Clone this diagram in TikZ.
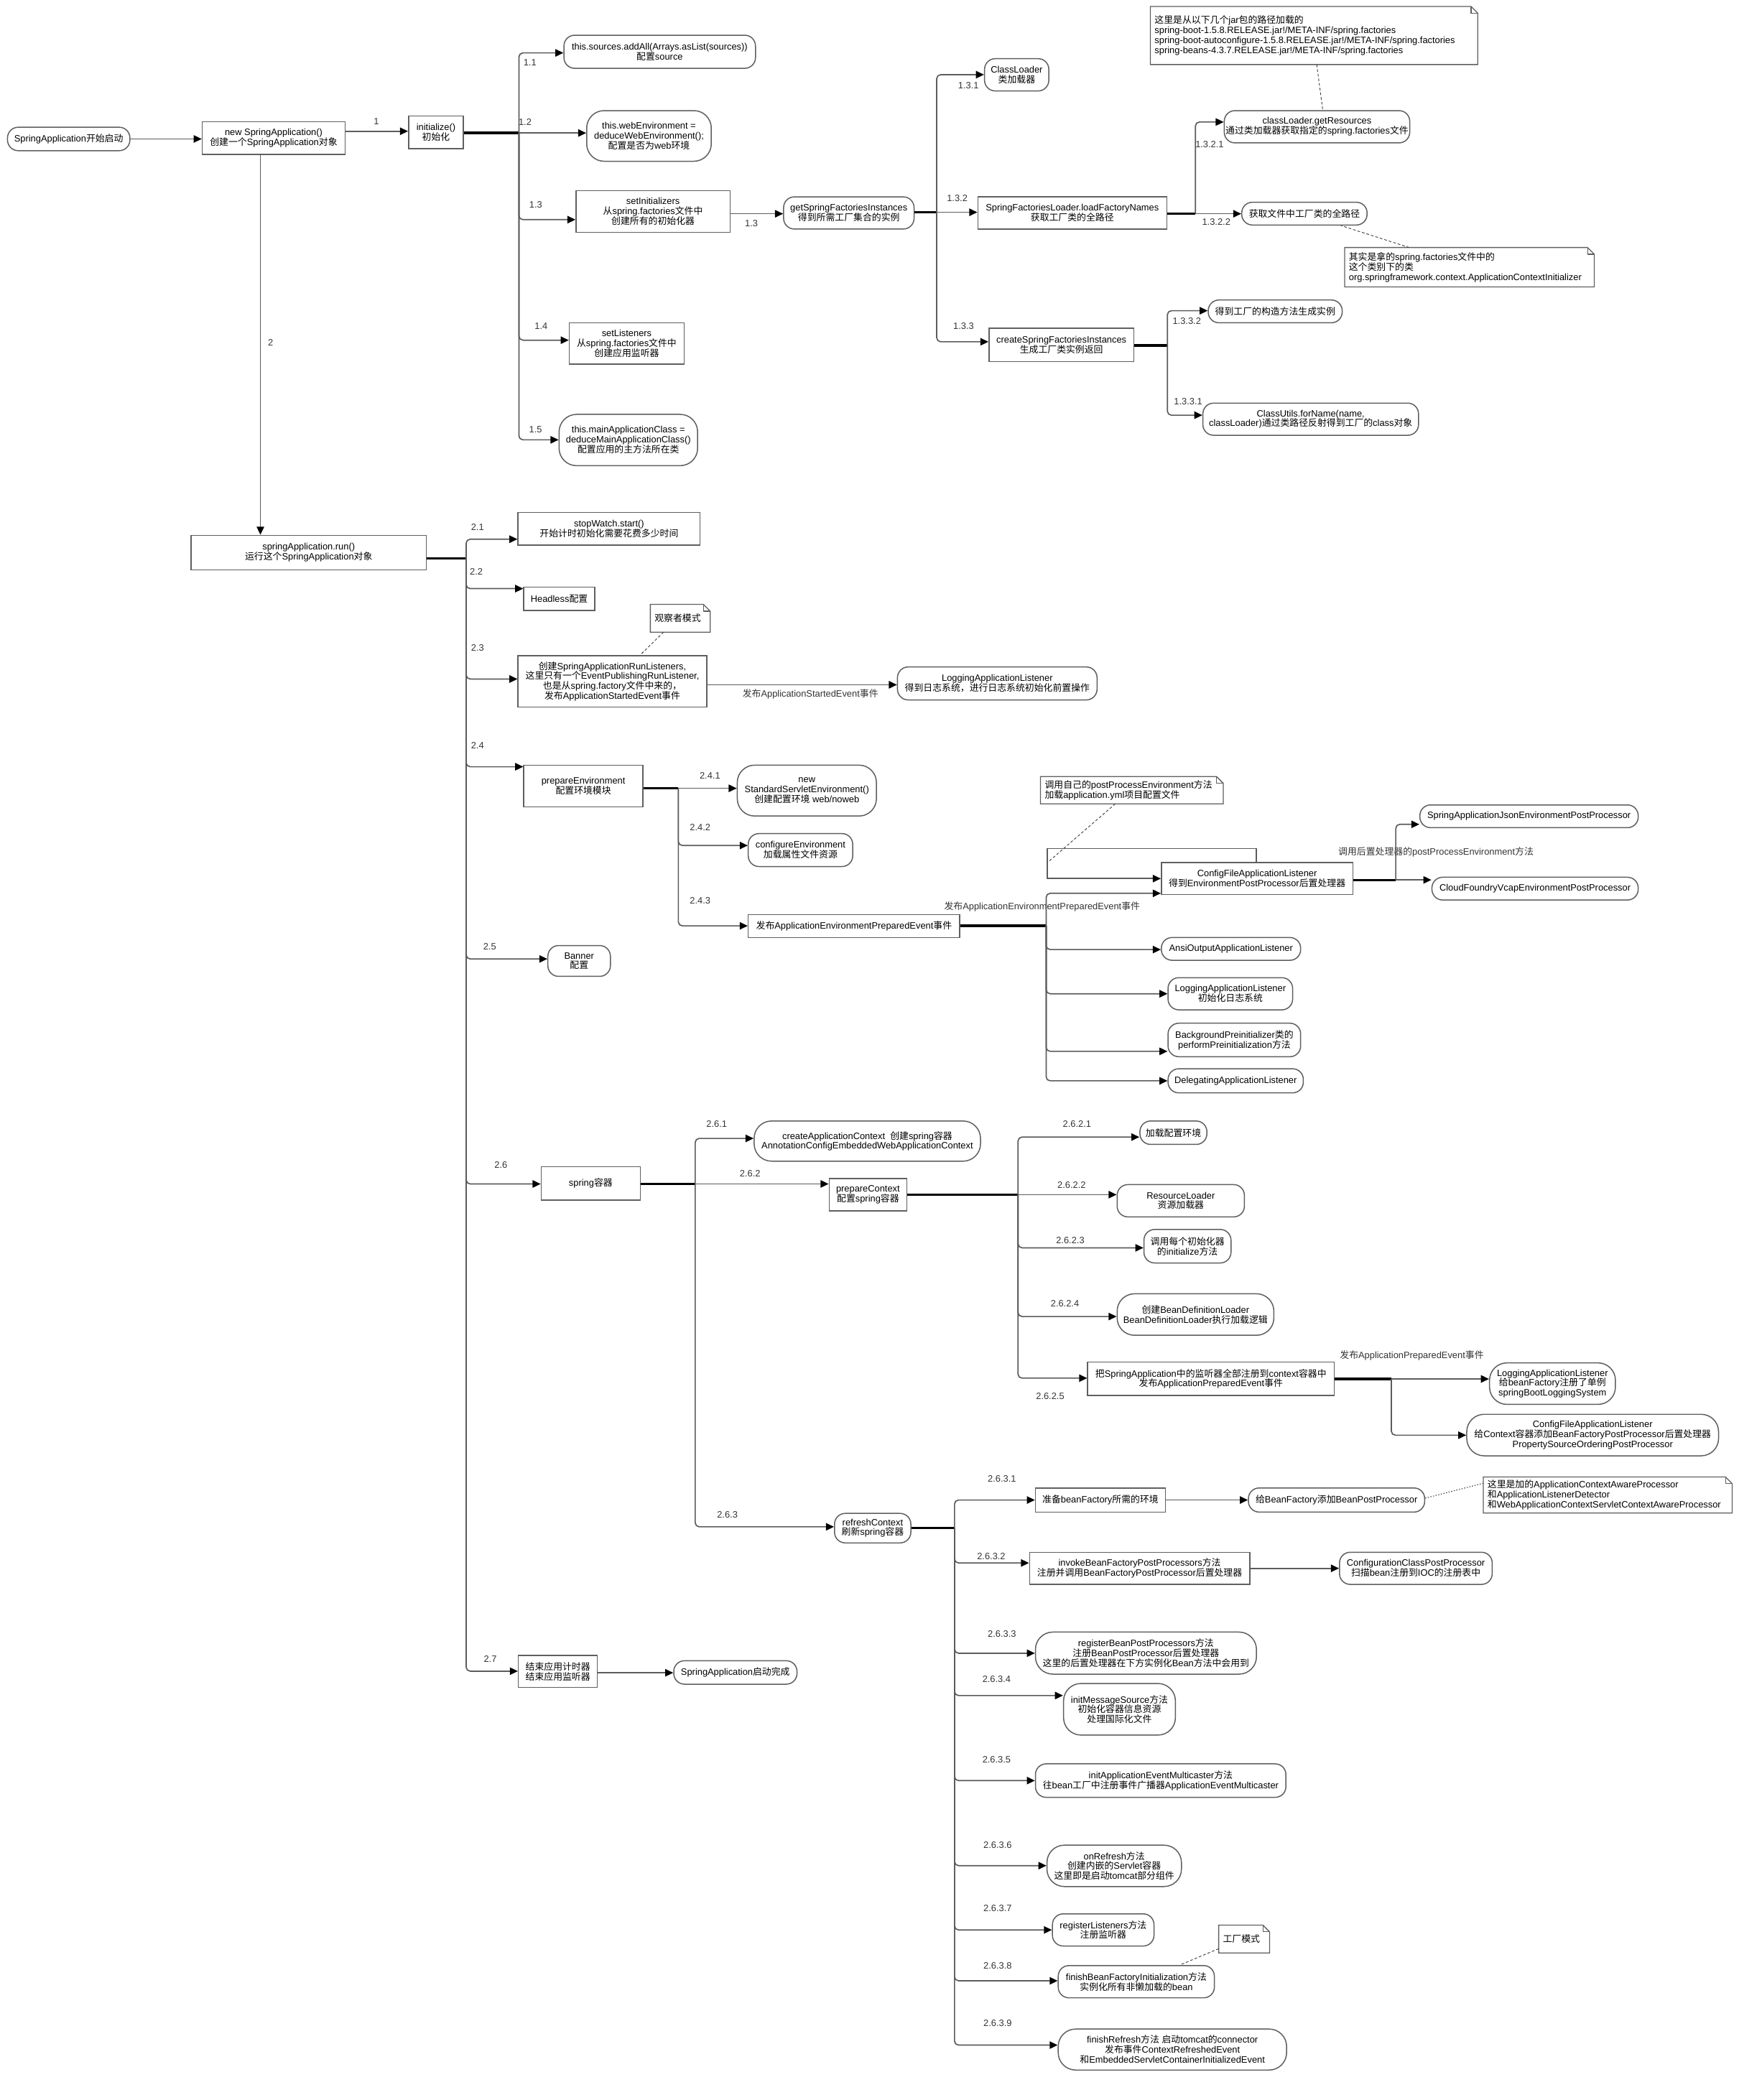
\documentclass[tikz,border=0pt]{standalone}
\usepackage{fontspec}
\setmainfont{Liberation Sans}
\newfontfamily\latfont{Liberation Sans}
\newfontfamily\cjkfont{Noto Sans CJK SC}
\usetikzlibrary{arrows.meta}
\definecolor{bord}{HTML}{5F5F5F}
\definecolor{lin}{HTML}{5C5C5C}
\newXeTeXintercharclass\cjkcls
\newcount\cjkcnt
\cjkcnt="3000 \loop \XeTeXcharclass\cjkcnt=\cjkcls \ifnum\cjkcnt<"303F \advance\cjkcnt by 1 \repeat
\cjkcnt="4E00 \loop \XeTeXcharclass\cjkcnt=\cjkcls \ifnum\cjkcnt<"9FFF \advance\cjkcnt by 1 \repeat
\cjkcnt="FF00 \loop \XeTeXcharclass\cjkcnt=\cjkcls \ifnum\cjkcnt<"FFEF \advance\cjkcnt by 1 \repeat
\XeTeXinterchartoks 0 \cjkcls = {\cjkfont}
\XeTeXinterchartoks 4095 \cjkcls = {\cjkfont}
\XeTeXinterchartoks \cjkcls 0 = {\latfont}
\XeTeXinterchartoks \cjkcls 4095 = {\latfont}
\XeTeXinterchartokenstate=1
\newcommand\fsz{\fontsize{6.9}{7.4}\selectfont\exhyphenpenalty=10000 \hyphenpenalty=10000 }
\newcommand\bx[7]{%
 \pgfmathsetmacro\bxcx{(#2+#4)/2}\pgfmathsetmacro\bxcy{(#3+#5)/2}%
 \pgfmathsetmacro\bxw{#4-#2}\pgfmathsetmacro\bxh{#5-#3}%
 \node[#6,minimum width=\bxw pt,minimum height=\bxh pt] (#1) at (\bxcx,\bxcy) {#7};}
\newcommand\nt[6]{%
 \pgfmathsetmacro\bxcx{(#2+#4)/2}\pgfmathsetmacro\bxcy{(#3+#5)/2}%
 \pgfmathsetmacro\bxw{#4-#2}\pgfmathsetmacro\bxh{#5-#3}\pgfmathsetmacro\bxtw{#4-#2-6}%
 \node[notebox,minimum width=\bxw pt,minimum height=\bxh pt,text width=\bxtw pt] (#1) at (\bxcx,\bxcy) {#6};
 \draw[noteline] (#1.north west) -- ([xshift=-5pt]#1.north east) -- ([yshift=-5pt]#1.north east) -- (#1.south east) -- (#1.south west) -- cycle;
 \draw[noteline] ([xshift=-5pt]#1.north east) -- ([xshift=-5pt,yshift=-5pt]#1.north east) -- ([yshift=-5pt]#1.north east);}
\tikzset{
 nbase/.style={font=\fsz, align=center, inner sep=1pt, draw=bord, line width=0.8pt, fill=white, text=black},
 boxn/.style={nbase},
 pill/.style={nbase, rounded corners=8pt},
 pillb/.style={nbase, rounded corners=13pt},
 notebox/.style={font=\fsz, align=left, inner sep=2pt, fill=white},
 conn/.style={draw=lin, line width=0.9pt, rounded corners=3pt, -{Triangle[length=6pt,width=5.5pt,color=black]}},
 thk/.style={draw=black, line width=1.8pt},
 lbl/.style={font=\fsz, text=black!80, inner sep=0pt},
 noteline/.style={draw=bord, line width=0.7pt},
 dashln/.style={draw=black!75, line width=0.5pt, dash pattern=on 2pt off 1.5pt},
 dotln/.style={draw=black!75, line width=0.6pt, dash pattern=on 0.8pt off 1.2pt},
}
\begin{document}
\begin{tikzpicture}[x=1pt,y=-1pt]
\useasboundingbox (0,0) rectangle (1315,1568);
\fill[white] (0,0) rectangle (1315,1568);
% ---------- part 1
\bx{start}{5.6}{95}{97}{112.5}{pill}{SpringApplication开始启动}
\bx{newsa}{151}{91}{257.6}{115.3}{boxn}{new SpringApplication()\\创建一个SpringApplication对象}
\bx{init}{305}{86.6}{346}{111}{boxn}{initialize()\\初始化}
\bx{n11}{421}{26.3}{564}{51}{pill}{this.sources.addAll(Arrays.asList(sources))\\配置source}
\bx{n12}{438}{82.6}{531}{120.4}{pillb}{this.webEnvironment =\\deduceWebEnvironment();\\配置是否为web环境}
\bx{n13}{430}{142.4}{545}{173.5}{boxn}{setInitializers\\从spring.factories文件中\\创建所有的初始化器}
\bx{n14}{425}{241}{510.7}{272}{boxn}{setListeners\\从spring.factories文件中\\创建应用监听器}
\bx{n15}{417.4}{309.4}{520.8}{347.7}{pillb}{this.mainApplicationClass =\\deduceMainApplicationClass()\\配置应用的主方法所在类}
\bx{gsfi}{585}{147}{682.4}{171}{pill}{getSpringFactoriesInstances\\得到所需工厂集合的实例}
\bx{cl}{735}{43.8}{783}{67.9}{pill}{ClassLoader\\类加载器}
\bx{sfl}{730}{147}{871}{171}{boxn}{SpringFactoriesLoader.loadFactoryNames\\获取工厂类的全路径}
\bx{csfi}{738.3}{245}{846.5}{270}{boxn}{createSpringFactoriesInstances\\生成工厂类实例返回}
\bx{gres}{914.6}{82.6}{1051.8}{106.7}{pill}{classLoader.getResources\\通过类加载器获取指定的spring.factories文件}
\bx{gfile}{927}{151}{1020.6}{168}{pill}{获取文件中工厂类的全路径}
\bx{ctor}{902}{224}{1002}{241}{pill}{得到工厂的构造方法生成实例}
\bx{cu}{898}{301}{1059}{325}{pill}{ClassUtils.forName(name,\\classLoader)通过类路径反射得到工厂的class对象}
\nt{note1}{859}{5}{1103}{48}{这里是从以下几个jar包的路径加载的\\spring-boot-1.5.8.RELEASE.jar!/META-INF/spring.factories\\spring-boot-autoconfigure-1.5.8.RELEASE.jar!/META-INF/spring.factories\\spring-beans-4.3.7.RELEASE.jar!/META-INF/spring.factories}
\nt{note2}{1004}{185}{1190}{214}{其实是拿的spring.factories文件中的\\这个类别下的类\\org.springframework.context.ApplicationContextInitializer}
% ---------- part 2
\bx{run}{142.6}{399.7}{318.3}{425.6}{boxn}{springApplication.run()\\运行这个SpringApplication对象}
\bx{sw}{386.7}{382.6}{522.7}{407}{boxn}{stopWatch.start()\\开始计时初始化需要花费多少时间}
\bx{hl}{391}{438.5}{444}{455.7}{boxn}{Headless配置}
\bx{rl}{386.7}{489.7}{527.6}{527.9}{boxn}{创建SpringApplicationRunListeners,\\这里只有一个EventPublishingRunListener,\\也是从spring.factory文件中来的，\\发布ApplicationStartedEvent事件}
\nt{note3}{485.7}{451.5}{530}{471.8}{观察者模式}
\bx{lal1}{670}{498}{819}{522.6}{pill}{LoggingApplicationListener\\得到日志系统，进行日志系统初始化前置操作}
\bx{pe}{391}{571.3}{480}{602.4}{boxn}{prepareEnvironment\\配置环境模块}
\bx{sse}{550.4}{571.3}{654.3}{609.3}{pillb}{new\\StandardServletEnvironment()\\创建配置环境 web/noweb}
\bx{ce}{558.6}{622.4}{636.6}{647}{pill}{configureEnvironment\\加载属性文件资源}
\bx{pub}{558.6}{683}{716.5}{700}{boxn}{发布ApplicationEnvironmentPreparedEvent事件}
\bx{cfal}{867}{644}{1010}{668}{boxn}{ConfigFileApplicationListener\\得到EnvironmentPostProcessor后置处理器}
\nt{note4}{777}{580}{913}{600}{调用自己的postProcessEnvironment方法\\加载application.yml项目配置文件}
\bx{sajepp}{1060}{601}{1223}{618}{pill}{SpringApplicationJsonEnvironmentPostProcessor}
\bx{cfv}{1069}{655}{1223}{672}{pill}{CloudFoundryVcapEnvironmentPostProcessor}
\bx{aoal}{867}{700}{971}{717}{pill}{AnsiOutputApplicationListener}
\bx{lal2}{872}{730}{965}{754}{pill}{LoggingApplicationListener\\初始化日志系统}
\bx{bpi}{872}{764}{971}{789}{pill}{BackgroundPreinitializer类的\\performPreinitialization方法}
\bx{dal}{872}{798}{973}{816}{pill}{DelegatingApplicationListener}
\bx{banner}{409}{706}{455.7}{729}{pill}{Banner\\配置}
\bx{sc}{404}{871}{478}{896}{boxn}{spring容器}
\bx{cac}{563}{837}{732}{867}{pillb}{createApplicationContext\ \ 创建spring容器\\AnnotationConfigEmbeddedWebApplicationContext}
\bx{pc}{619}{880}{677}{904}{boxn}{prepareContext\\配置spring容器}
\bx{lce}{851}{837}{901}{854.5}{pill}{加载配置环境}
\bx{rld}{834}{884.5}{929}{908.6}{pill}{ResourceLoader\\资源加载器}
\bx{cin}{854}{918}{919}{943}{pill}{调用每个初始化器\\的initialize方法}
\bx{bdl}{834}{966}{951}{997}{pillb}{创建BeanDefinitionLoader\\BeanDefinitionLoader执行加载逻辑}
\bx{reg}{812}{1017}{996}{1042}{boxn}{把SpringApplication中的监听器全部注册到context容器中\\发布ApplicationPreparedEvent事件}
\bx{lal3}{1112}{1017.6}{1206}{1048.6}{pillb}{LoggingApplicationListener\\给beanFactory注册了单例\\springBootLoggingSystem}
\bx{cfal2}{1095}{1056}{1283}{1087}{pillb}{ConfigFileApplicationListener\\给Context容器添加BeanFactoryPostProcessor后置处理器\\PropertySourceOrderingPostProcessor}
\bx{rc}{623}{1130}{680}{1152}{pill}{refreshContext\\刷新spring容器}
\bx{pbf}{773}{1111}{870}{1129}{boxn}{准备beanFactory所需的环境}
\bx{abpp}{932}{1111}{1063.6}{1129}{pill}{给BeanFactory添加BeanPostProcessor}
\nt{note5}{1107.5}{1103}{1293}{1129.5}{这里是加的ApplicationContextAwareProcessor\\和ApplicationListenerDetector\\和WebApplicationContextServletContextAwareProcessor}
\bx{ibfpp}{768.6}{1159}{933}{1183}{boxn}{invokeBeanFactoryPostProcessors方法\\注册并调用BeanFactoryPostProcessor后置处理器}
\bx{ccpp}{1000}{1159}{1114}{1183}{pill}{ConfigurationClassPostProcessor\\扫描bean注册到IOC的注册表中}
\bx{rbpp}{773}{1218.6}{938}{1250}{pillb}{registerBeanPostProcessors方法\\注册BeanPostProcessor后置处理器\\这里的后置处理器在下方实例化Bean方法中会用到}
\bx{ims}{794}{1257}{877.5}{1295.5}{pillb}{initMessageSource方法\\初始化容器信息资源\\处理国际化文件}
\bx{iaem}{773}{1317}{960}{1342}{pill}{initApplicationEventMulticaster方法\\往bean工厂中注册事件广播器ApplicationEventMulticaster}
\bx{onr}{781.6}{1377.7}{882}{1408.6}{pillb}{onRefresh方法\\创建内嵌的Servlet容器\\这里即是启动tomcat部分组件}
\bx{rls}{785.7}{1429}{861.5}{1453}{pill}{registerListeners方法\\注册监听器}
\nt{note6}{910}{1437.6}{947.6}{1458}{工厂模式}
\bx{fbfi}{790}{1467.6}{906.6}{1491.7}{pill}{finishBeanFactoryInitialization方法\\实例化所有非懒加载的bean}
\bx{fr}{790}{1515}{960.5}{1545.6}{pillb}{finishRefresh方法 启动tomcat的connector\\发布事件ContextRefreshedEvent\\和EmbeddedServletContainerInitializedEvent}
\bx{endn}{387}{1236}{446}{1260}{boxn}{结束应用计时器\\结束应用监听器}
\bx{done}{503}{1240}{595}{1257.5}{pill}{SpringApplication启动完成}
% ---------- labels
\node[lbl] (L1) at (281,90.5) {1};
\node[lbl] (L2) at (202,256) {2};
\node[lbl] (L11) at (395.6,46.7) {1.1};
\node[lbl] (L12) at (392,91) {1.2};
\node[lbl] (L13) at (400,153) {1.3};
\node[lbl] (L14) at (404,243.4) {1.4};
\node[lbl] (L15) at (399.8,320.7) {1.5};
\node[lbl] (L13b) at (561,166.8) {1.3};
\node[lbl] (L131) at (723,64) {1.3.1};
\node[lbl] (L132) at (714.6,148) {1.3.2};
\node[lbl] (L133) at (719.4,243.4) {1.3.3};
\node[lbl] (L1321) at (903,108) {1.3.2.1};
\node[lbl] (L1322) at (908,166) {1.3.2.2};
\node[lbl] (L1332) at (886,240) {1.3.3.2};
\node[lbl] (L1331) at (887,300) {1.3.3.1};
\node[lbl] (L21) at (356.5,393.7) {2.1};
\node[lbl] (L22) at (355.6,427) {2.2};
\node[lbl] (L23) at (356.5,483.7) {2.3};
\node[lbl] (L24) at (356.5,556.8) {2.4};
\node[lbl] (L241) at (530,579.3) {2.4.1};
\node[lbl] (L242) at (522.7,617.6) {2.4.2};
\node[lbl] (L243) at (522.7,672.4) {2.4.3};
\node[lbl] (L25) at (365.6,706.9) {2.5};
\node[lbl] (L26) at (374,870) {2.6};
\node[lbl] (L261) at (535,839.5) {2.6.1};
\node[lbl] (L262) at (560,876) {2.6.2};
\node[lbl] (L2621) at (804,839) {2.6.2.1};
\node[lbl] (L2622) at (800,884.7) {2.6.2.2};
\node[lbl] (L2623) at (799,926) {2.6.2.3};
\node[lbl] (L2624) at (795,973.5) {2.6.2.4};
\node[lbl] (L2625) at (784,1042.6) {2.6.2.5};
\node[lbl] (L263) at (543,1131) {2.6.3};
\node[lbl] (L2631) at (748,1104) {2.6.3.1};
\node[lbl] (L2632) at (740,1162) {2.6.3.2};
\node[lbl] (L2633) at (748,1220) {2.6.3.3};
\node[lbl] (L2634) at (744,1254) {2.6.3.4};
\node[lbl] (L2635) at (744,1314) {2.6.3.5};
\node[lbl] (L2636) at (744.8,1377.7) {2.6.3.6};
\node[lbl] (L2637) at (744.8,1425) {2.6.3.7};
\node[lbl] (L2638) at (744.8,1467.6) {2.6.3.8};
\node[lbl] (L2639) at (744.8,1510.5) {2.6.3.9};
\node[lbl] (L27) at (366,1238.7) {2.7};
\node[lbl] (E1) at (605,518) {发布ApplicationStartedEvent事件};
\node[lbl] (E2) at (778,677) {发布ApplicationEnvironmentPreparedEvent事件};
\node[lbl] (E3) at (1072,636) {调用后置处理器的postProcessEnvironment方法};
\node[lbl] (E4) at (1054,1012) {发布ApplicationPreparedEvent事件};
% ---------- connectors part 1
\draw[conn] (start.east) -- (newsa.west |- start.east);
\draw[conn] (newsa.east |- 0,98) -- (init.west |- 0,98);
\draw[conn] (newsa.south -| 194.4,0) -- (run.north -| 194.4,0);
\coordinate (h1) at (387.4,99.3);
\draw[thk] (init.east |- h1) -- (h1);
\draw[conn] (h1) |- (n11.west |- 0,39.5);
\draw[conn] (h1) -- (n12.west |- h1);
\draw[conn] (h1) |- (n13.west |- 0,164);
\draw[conn] (h1) |- (n14.west |- 0,254);
\draw[conn] (h1) |- (n15.west |- 0,328.4);
\draw[conn] (n13.east |- 0,159.6) -- (gsfi.west |- 0,159.6);
\coordinate (h2) at (699.3,158.5);
\draw[thk] (gsfi.east |- h2) -- (h2);
\draw[conn] (h2) |- (cl.west |- 0,55.75);
\draw[conn] (h2) -- (sfl.west |- h2);
\draw[conn] (h2) |- (csfi.west |- 0,255.2);
\coordinate (h3) at (892.4,159.6);
\draw[thk] (sfl.east |- h3) -- (h3);
\draw[conn] (h3) |- (gres.west |- 0,91.1);
\draw[conn] (h3) -- (gfile.west |- h3);
\coordinate (h4) at (871.5,258);
\draw[thk] (csfi.east |- h4) -- (h4);
\draw[conn] (h4) |- (ctor.west |- 0,232);
\draw[conn] (h4) |- (cu.west |- 0,310);
% ---------- connectors part 2
\coordinate (h5) at (348,416.8);
\draw[thk] (run.east |- h5) -- (h5);
\draw[conn] (h5) |- (sw.west |- 0,402.6);
\draw[conn] (h5) |- (hl.west |- 0,439.5);
\draw[conn] (h5) |- (rl.west |- 0,507);
\draw[conn] (h5) |- (pe.west |- 0,572.5);
\draw[conn] (h5) |- (banner.west |- 0,716);
\draw[conn] (h5) |- (sc.west |- 0,884);
\draw[conn] (h5) |- (endn.west |- 0,1247.8);
\draw[conn] (rl.east |- 0,511.3) -- (lal1.west |- 0,511.3);
\coordinate (h6) at (506.4,588.6);
\draw[thk] (pe.east |- h6) -- (h6);
\draw[conn] (h6) -- (sse.west |- h6);
\draw[conn] (h6) |- (ce.west |- 0,631.3);
\draw[conn] (h6) |- (pub.west |- 0,691.3);
\coordinate (h7) at (781,691.3);
\draw[thk] (pub.east |- h7) -- (h7);
\draw[conn] (h7) |- (cfal.west |- 0,667);
\draw[conn] (h7) |- (aoal.west |- 0,709);
\draw[conn] (h7) |- (lal2.west |- 0,742);
\draw[conn] (h7) |- (bpi.west |- 0,785);
\draw[conn] (h7) |- (dal.west |- 0,807);
\draw[conn,sharp corners] (cfal.north -| 938,0) -- (938,633.6) -- (782,633.6) -- (782,656) -- (cfal.west |- 0,656);
\coordinate (h8) at (1042,657);
\draw[thk] (cfal.east |- h8) -- (h8);
\draw[conn] (h8) |- (sajepp.west |- 0,615.5);
\draw[conn] (h8) -- (cfv.west |- h8);
\coordinate (h9) at (519,884);
\draw[thk] (sc.east |- h9) -- (h9);
\draw[conn] (h9) |- (cac.west |- 0,850);
\draw[conn] (h9) -- (pc.west |- h9);
\draw[conn] (h9) |- (rc.west |- 0,1140);
\coordinate (h10) at (760,892);
\draw[thk] (pc.east |- h10) -- (h10);
\draw[conn] (h10) |- (lce.west |- 0,849);
\draw[conn] (h10) -- (rld.west |- h10);
\draw[conn] (h10) |- (cin.west |- 0,931.7);
\draw[conn] (h10) |- (bdl.west |- 0,983);
\draw[conn] (h10) |- (reg.west |- 0,1029);
\coordinate (h11) at (1038.7,1029.6);
\draw[thk] (reg.east |- h11) -- (h11);
\draw[conn] (h11) -- (lal3.west |- h11);
\draw[conn] (h11) |- (cfal2.west |- 0,1071.6);
\coordinate (h12) at (712.6,1141);
\draw[thk] (rc.east |- h12) -- (h12);
\draw[conn] (h12) |- (pbf.west |- 0,1120);
\draw[conn] (h12) |- (ibfpp.west |- 0,1167);
\draw[conn] (h12) |- (rbpp.west |- 0,1234.4);
\draw[conn] (h12) |- (ims.west |- 0,1266);
\draw[conn] (h12) |- (iaem.west |- 0,1329.5);
\draw[conn] (h12) |- (onr.west |- 0,1393);
\draw[conn] (h12) |- (rls.west |- 0,1441);
\draw[conn] (h12) |- (fbfi.west |- 0,1479);
\draw[conn] (h12) |- (fr.west |- 0,1527);
\draw[conn] (pbf.east) -- (abpp.west);
\draw[conn] (ibfpp.east |- 0,1171) -- (ccpp.west |- 0,1171);
\draw[conn] (endn.east |- 0,1249) -- (done.west |- 0,1249);
% ---------- note links
\coordinate (loopL) at (782,644);
\draw[dashln] (note1.south -| 983,0) -- (gres.north -| 987.5,0);
\draw[dashln] (note2.north -| 1052,0) -- (gfile.south -| 1001,0);
\draw[dashln] (note3.south -| 495.4,0) -- (rl.north -| 477.7,0);
\draw[dashln] (note4.south -| 832.6,0) -- (loopL);
\draw[dotln] (abpp.east |- 0,1118.6) -- (note5.west |- 0,1107.5);
\draw[dashln] (note6.west |- 0,1455) -- (fbfi.north -| 880.8,0);
\end{tikzpicture}
\end{document}
